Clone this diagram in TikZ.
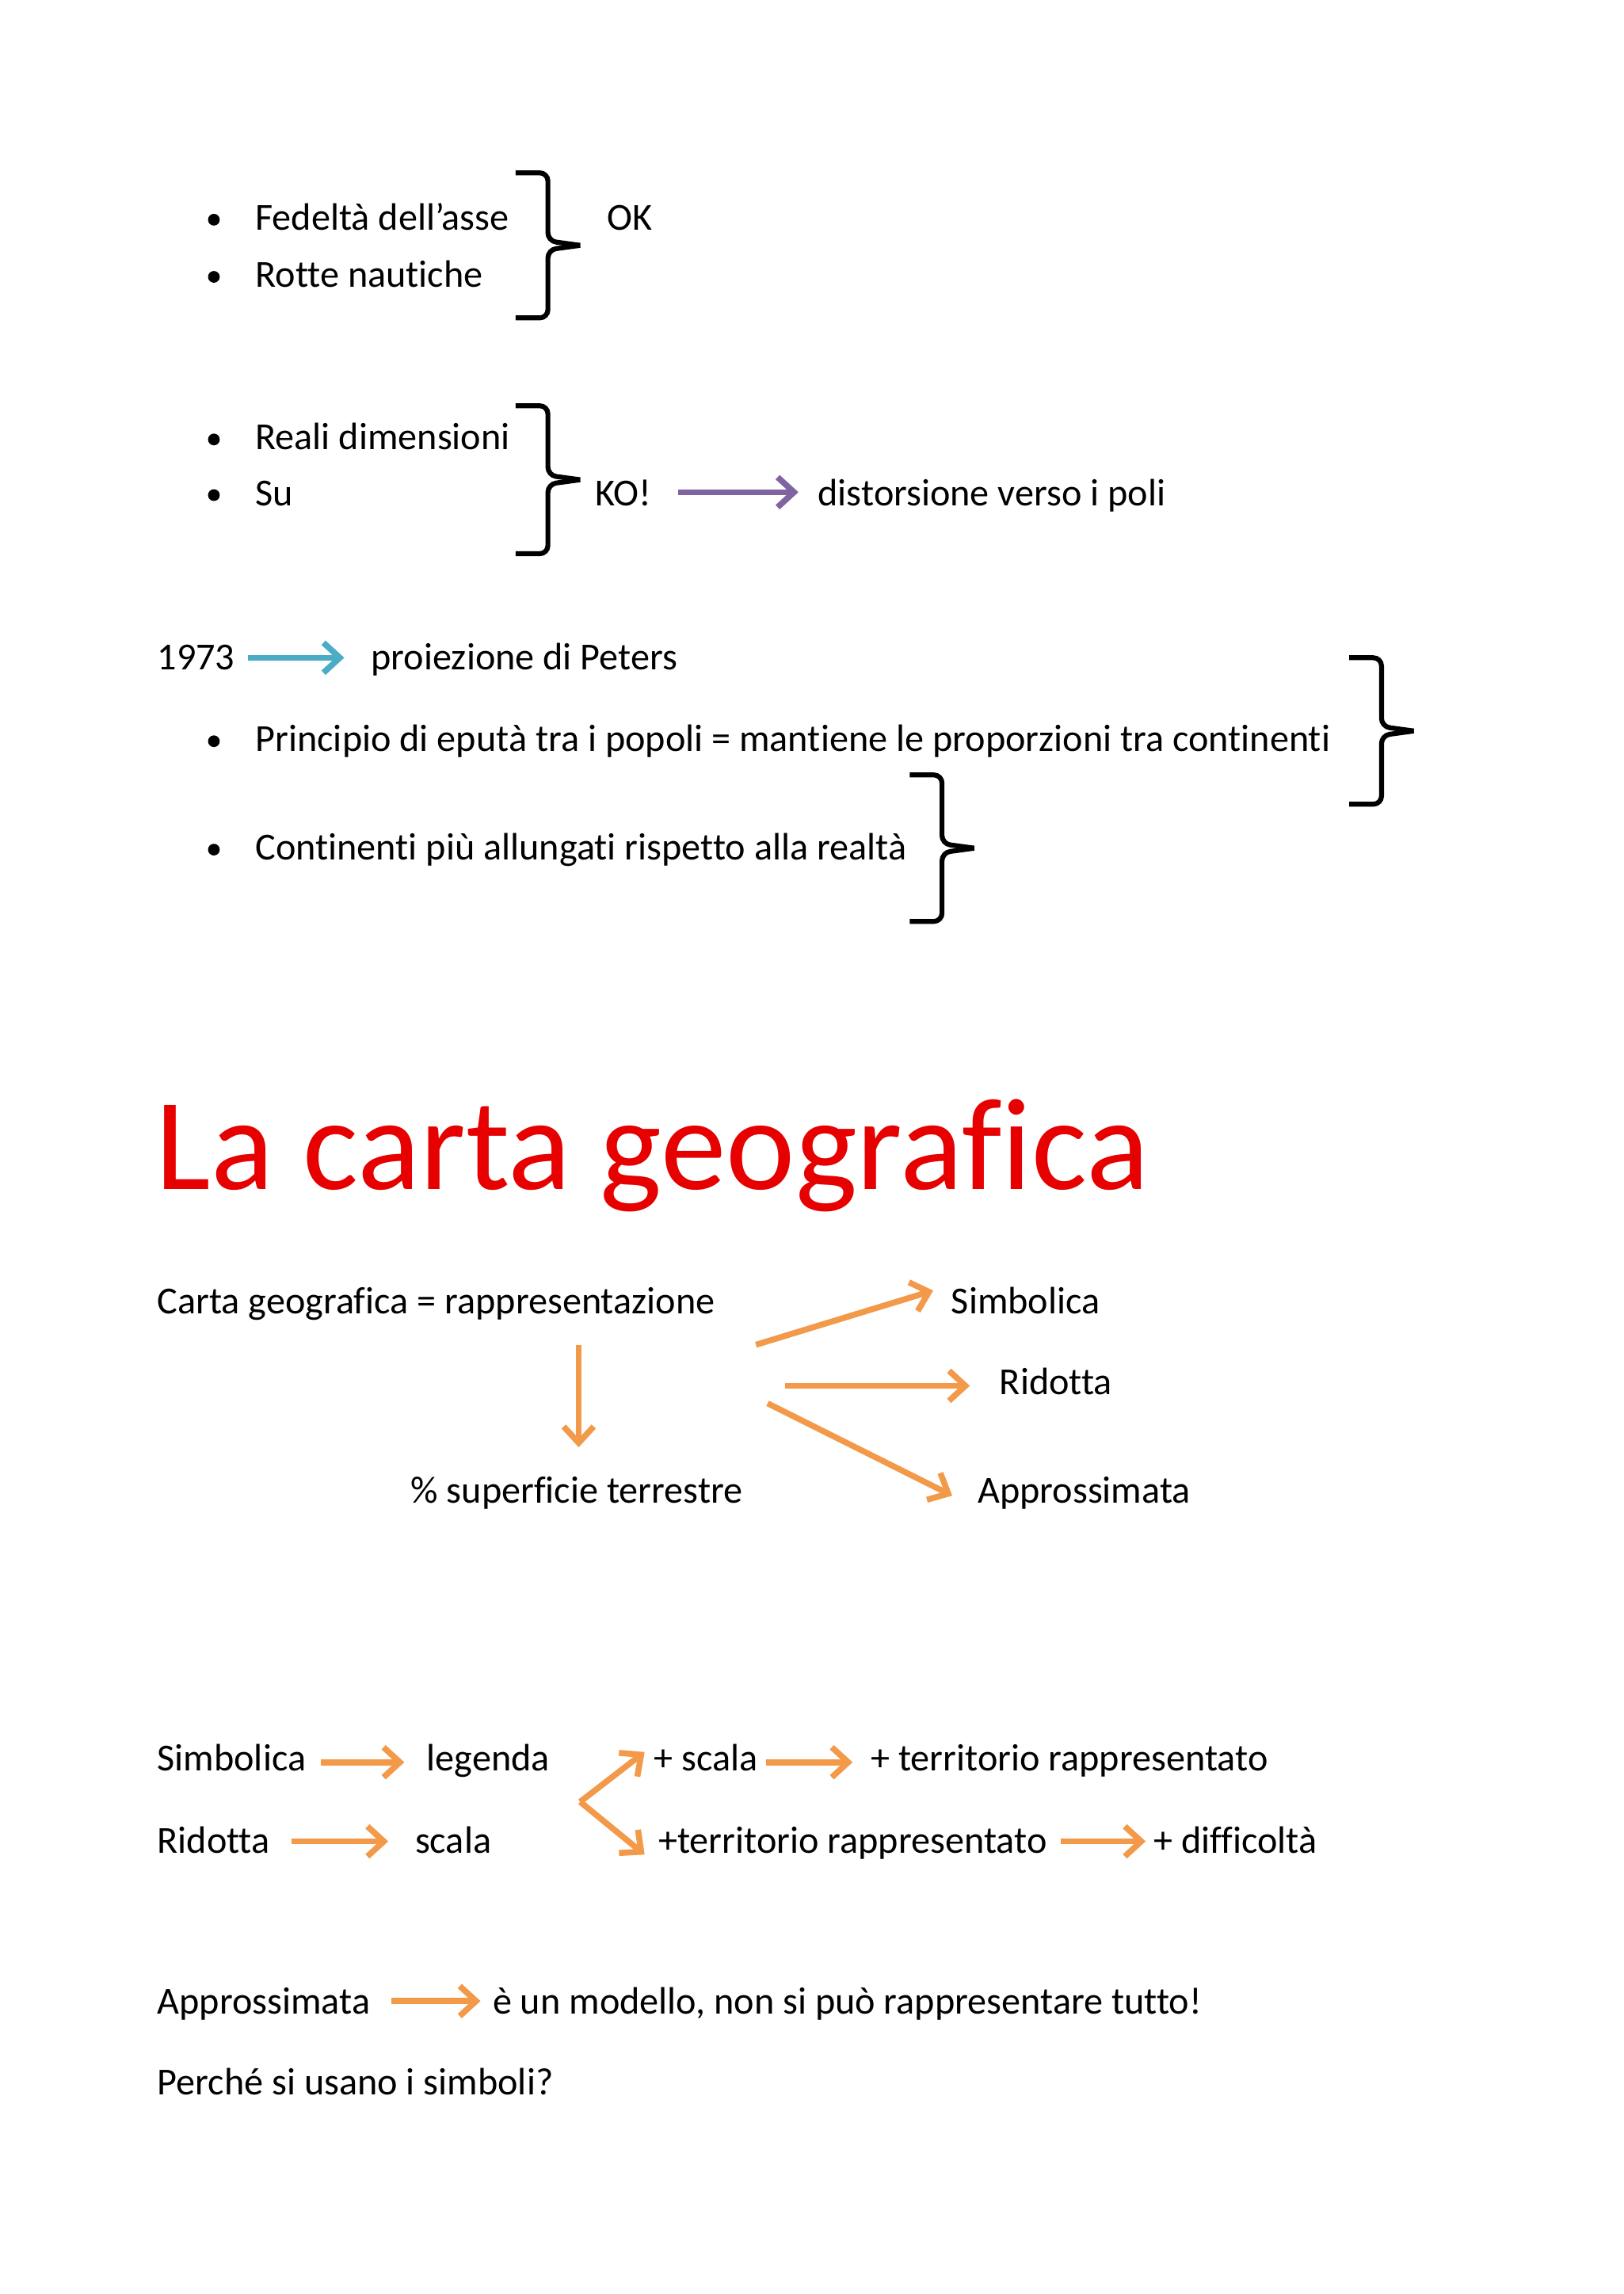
\documentclass[tikz,border=0pt]{standalone}
\usepackage{fontspec}
\setmainfont[Ligatures={NoCommon}]{Carlito}
\usetikzlibrary{arrows.meta}
\definecolor{orarr}{RGB}{242,154,74}
\definecolor{purarr}{RGB}{128,100,162}
\definecolor{bluarr}{RGB}{75,172,198}
\definecolor{titred}{RGB}{230,0,0}
\tikzset{
  txt/.style={anchor=base west,inner sep=0pt,font=\fontsize{14}{17}\selectfont},
  arr/.style={line width=2.2pt,-{Straight Barb[length=6pt,width=11pt]}},
  oarr/.style={arr,draw=orarr},
  brc/.style={line width=1.8pt,rounded corners=3pt},
}
\newcommand{\mybrace}[4]{% x1 x2 ytop ybot
  \draw[brc] (#1,#3) -- ({(#1+#2)/2},#3) -- ({(#1+#2)/2},{(#3+#4)/2-3}) -- (#2,{(#3+#4)/2});
  \draw[brc] (#1,#4) -- ({(#1+#2)/2},#4) -- ({(#1+#2)/2},{(#3+#4)/2+3}) -- (#2,{(#3+#4)/2});}
\begin{document}
\begin{tikzpicture}[x=0.537pt,y=-0.537pt]
\useasboundingbox[fill=white] (0,0) rectangle (1108,1566);
\foreach \y in {157,196,307,345,513,587} \fill (146,\y-7) circle (4);
\node[txt] (f) at (174,157) {Fedeltà dell’asse};
\node[txt] (r) at (174,196) {Rotte nautiche};
\mybrace{352}{396}{118}{217}
\node[txt] (ok) at (414,157) {OK};
\node[txt] (rd) at (174,307) {Reali dimensioni};
\node[txt] (su) at (174,345) {Su};
\mybrace{352}{396}{277}{378}
\node[txt] (ko) at (406,345) {KO!};
\coordinate (p1) at (463,336); \coordinate (p2) at (545,336);
\draw[arr,draw=purarr] (p1) -- (p2);
\node[txt] (dist) at (558,345) {distorsione verso i poli};
\node[txt] (y73) at (107,457) {1973};
\coordinate (b1) at (169,449); \coordinate (b2) at (235,449);
\draw[arr,draw=bluarr] (b1) -- (b2);
\node[txt] (pet) at (253,457) {proiezione di Peters};
\node[txt] (pr) at (174,513) {Principio di eputà tra i popoli = mantiene le proporzioni tra continenti};
\mybrace{921}{965}{449}{549}
\node[txt] (co) at (174,587) {Continenti più allungati rispetto alla realtà};
\mybrace{621}{665}{529}{629}
\node[anchor=base west,inner sep=0pt,text=titred,font=\fontsize{48}{54}\selectfont] (tit) at (106,812) {La carta geografica};
\node[txt] (cg) at (107,897) {Carta geografica = rappresentazione};
\coordinate (d1) at (395,918); \coordinate (d2) at (395,988);
\draw[oarr] (d1) -- (d2);
\node[txt] (sup) at (280,1026) {\% superficie terrestre};
\coordinate (a1) at (516,918); \coordinate (a2) at (637,881);
\coordinate (c1) at (536,946); \coordinate (c2) at (662,946);
\coordinate (e1) at (524,958); \coordinate (e2) at (650,1021);
\draw[oarr] (a1) -- (a2); \draw[oarr] (c1) -- (c2); \draw[oarr] (e1) -- (e2);
\node[txt] (s) at (649,897) {Simbolica};
\node[txt] (ri) at (682,952) {Ridotta};
\node[txt] (ap) at (667,1026) {Approssimata};
\node[txt] (s2) at (107,1209) {Simbolica};
\coordinate (g1) at (219,1203); \coordinate (g2) at (276,1203);
\draw[oarr] (g1) -- (g2);
\node[txt] (leg) at (291,1209) {legenda};
\coordinate (v) at (396,1230); \coordinate (v1) at (440,1196); \coordinate (v2) at (440,1266);
\draw[oarr] (v) -- (v1); \draw[oarr] (v) -- (v2);
\node[txt] (ps) at (446,1209) {+ scala};
\coordinate (h1) at (523,1203); \coordinate (h2) at (582,1203);
\draw[oarr] (h1) -- (h2);
\node[txt] (pt) at (594,1209) {+ territorio rappresentato};
\node[txt] (r2) at (107,1265) {Ridotta};
\coordinate (k1) at (199,1257); \coordinate (k2) at (265,1257);
\draw[oarr] (k1) -- (k2);
\node[txt] (sc) at (283,1265) {scala};
\node[txt] (pt2) at (449,1265) {+territorio rappresentato};
\coordinate (m1) at (724,1257); \coordinate (m2) at (782,1257);
\draw[oarr] (m1) -- (m2);
\node[txt] (dif) at (787,1265) {+ difficoltà};
\node[txt] (ap2) at (107,1375) {Approssimata};
\coordinate (n1) at (267,1366); \coordinate (n2) at (328,1366);
\draw[oarr] (n1) -- (n2);
\node[txt] (mod) at (336,1375) {è un modello, non si può rappresentare tutto!};
\node[txt] (q) at (107,1430) {Perché si usano i simboli?};
\end{tikzpicture}
\end{document}
